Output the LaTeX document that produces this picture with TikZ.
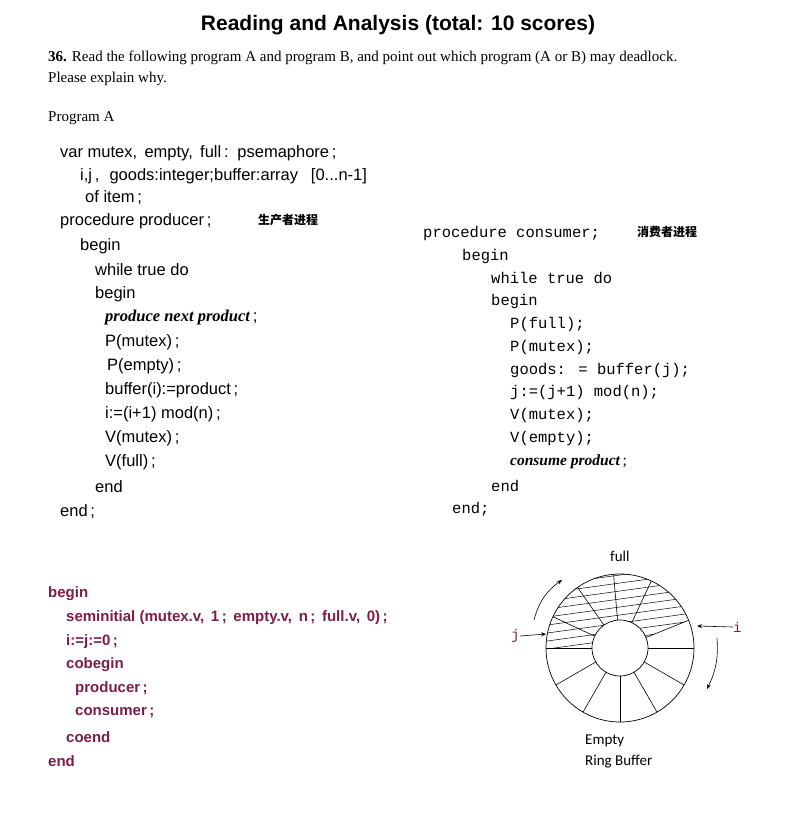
\documentclass[tikz,border=0pt]{standalone}
\usepackage{fontspec}
\setmainfont{Liberation Serif}
\newfontfamily\arial{Liberation Sans}
\newfontfamily\cmono{Liberation Mono}
\newfontfamily\calib{Carlito}
\newfontfamily\cjk{Noto Sans CJK SC}
\usetikzlibrary{arrows.meta,calc}
\definecolor{dred}{HTML}{7A1E45}
\begin{document}
\begin{tikzpicture}[x=1pt,y=-1pt,
  tl/.style={anchor=west,inner sep=0pt},
  ca/.style={tl,font=\arial\fontsize{16.5}{18}\selectfont},
  cmo/.style={tl,font=\cmono\fontsize{15.5}{18}\selectfont},
  cr/.style={tl,text=dred,font=\arial\bfseries\fontsize{15}{18}\selectfont},
  zh/.style={tl,font=\cjk\bfseries\fontsize{12}{14}\selectfont},
  arr/.style={-{Stealth[length=5pt,width=4pt]},line width=0.6pt}]
\useasboundingbox (0,0) rectangle (796,814);
\node[inner sep=0pt,font=\arial\bfseries\fontsize{21}{24}\selectfont] (title) at (398,25) {Reading and Analysis (total: 10 scores)};
\node[tl,font=\fontsize{15}{18}\selectfont] (q1) at (48,58) {\textbf{36.} Read the following program A and program B, and point out which program (A or B) may deadlock.};
\node[tl,font=\fontsize{15}{18}\selectfont] (q2) at (48,79) {Please explain why.};
\node[tl,font=\fontsize{15}{18}\selectfont] (pa) at (48,118) {Program A：};
% Program A
\node[ca] (a1) at (60,153) {var mutex,\, empty,\, full\,:\, psemaphore\,;};
\node[ca] (a2) at (80,176) {i,j\,,\,\, goods:integer;buffer:array\,\,\, [0...n-1]};
\node[ca] (a3) at (85,198) {of item\,;};
\node[ca] (a4) at (60,221) {procedure producer\,;};
\node[zh] (a4z) at (258,220) {生产者进程};
\node[ca] (a5) at (80,246) {begin};
\node[ca] (a6) at (95,270) {while true do};
\node[ca] (a7) at (95,294) {begin};
\node[ca] (a8) at (105,318) {{\rmfamily\bfseries\itshape produce next product}\,;};
\node[ca] (a9) at (105,342) {P(mutex)\,;};
\node[ca] (a10) at (107,366) {P(empty)\,;};
\node[ca] (a11) at (105,390) {buffer(i):=product\,;};
\node[ca] (a12) at (105,414) {i:=(i+1) mod(n)\,;};
\node[ca] (a13) at (105,438) {V(mutex)\,;};
\node[ca] (a14) at (105,462) {V(full)\,;};
\node[ca] (a15) at (95,487) {end};
\node[ca] (a16) at (60,512) {end\,;};
% Consumer
\node[cmo] (b1) at (423,233) {procedure consumer;};
\node[zh] (b1z) at (637,232) {消费者进程};
\node[cmo] (b2) at (462,256) {begin};
\node[cmo] (b3) at (491,278) {while true do};
\node[cmo] (b4) at (491,301) {begin};
\node[cmo] (b5) at (510,324) {P(full);};
\node[cmo] (b6) at (510,347) {P(mutex);};
\node[cmo] (b7) at (510,370) {goods: = buffer(j);};
\node[cmo] (b8) at (510,392) {j:=(j+1) mod(n);};
\node[cmo] (b9) at (510,415) {V(mutex);};
\node[cmo] (b10) at (510,438) {V(empty);};
\node[tl,font=\fontsize{15.5}{18}\selectfont] (b11) at (510,462) {{\bfseries\itshape consume product}\,;};
\node[cmo] (b12) at (491,486) {end};
\node[cmo] (b13) at (452,509) {end;};
% Main
\node[cr] (c1) at (48,594) {begin};
\node[cr] (c2) at (66,618) {seminitial (mutex.v,\, 1\,;\, empty.v,\, n\,;\, full.v,\, 0)\,;};
\node[cr] (c3) at (66,642) {i:=j:=0\,;};
\node[cr] (c4) at (66,665) {cobegin};
\node[cr] (c5) at (75,689) {producer\,;};
\node[cr] (c6) at (75,713) {consumer\,;};
\node[cr] (c7) at (66,737) {coend};
\node[cr] (c8) at (48,761) {end};
% Ring buffer
\coordinate (o) at (620,648);
\begin{scope}
\clip (o) circle[radius=74];
\clip (o) -- ($(o)+(-90,0)$) -- ($(o)+(-90,-90)$) -- ($(o)+(90,-90)$) -- ($(o)+(-22:90)$) -- cycle;
\foreach \k in {-8,...,12}
  \draw[line width=0.5pt] ($(o)+(-80,8*\k-70)$) -- ($(o)+(80,8*\k-92)$);
\end{scope}
\draw[line width=0.7pt] (o) circle[radius=74];
\draw[line width=0.7pt,fill=white] (o) circle[radius=28];
\foreach \a in {0,30,60,90,120,150,180,-155,-125,-95,-65,-22}
  \draw[line width=0.6pt] ($(o)+(\a:28)$) -- ($(o)+(\a:74)$);
\node[tl,font=\calib\fontsize{15}{18}\selectfont] (full) at (610,556) {full};
\node[tl,font=\calib\fontsize{15}{18}\selectfont] (em) at (585,741) {Empty};
\node[tl,font=\calib\fontsize{15}{18}\selectfont] (rb) at (585,762) {Ring Buffer};
\node[tl,text=dred,font=\cmono\fontsize{14}{16}\selectfont] (j) at (511,636) {j};
\node[tl,text=dred,font=\cmono\fontsize{14}{16}\selectfont] (i) at (733,627) {i};
\coordinate (jt) at (546,634);
\coordinate (it) at (697,626);
\draw[arr] (j.east) -- (jt);
\draw[arr] (i.west) -- (it);
\coordinate (l1) at (534,620); \coordinate (l2) at (562,580);
\coordinate (r1) at (717,638); \coordinate (r2) at (707,689);
\draw[arr] (l1) to[bend left=20] (l2);
\draw[arr] (r1) to[bend left=15] (r2);
\end{tikzpicture}
\end{document}
